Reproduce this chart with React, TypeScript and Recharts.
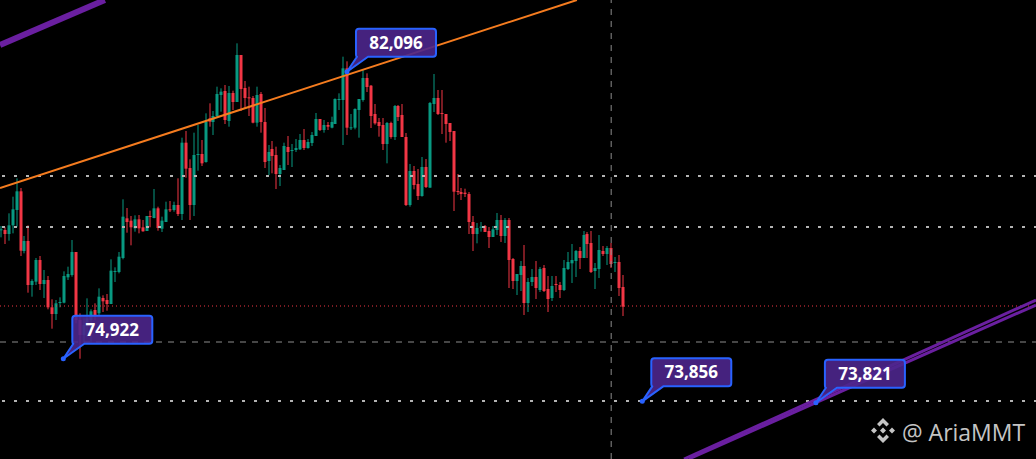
import { Bar, ComposedChart, ReferenceDot, ReferenceLine, XAxis, YAxis } from 'recharts';

const opens = [78132,78140,78040,78257,78640,79107,77615,77865,76765,76848,77390,76790,76890,76207,76040,76323,76323,76957,77015,77590,75890,75515,75765,75890,76140,76057,76440,76390,76290,77098,77090,77440,78432,78373,78182,78407,78207,78115,78490,78440,78682,78173,78340,78657,78640,78765,78540,80323,79690,78765,80015,80040,79840,80932,80840,80990,81515,81615,80865,81565,81340,82515,81690,81457,81440,80823,81540,80840,79865,80165,80015,79540,79640,80215,80123,80140,80157,80390,80190,80315,80490,80915,80640,80765,80698,80790,81398,81390,82182,80690,80698,81140,81390,81940,81748,81040,80840,80765,80290,80815,80465,81240,81015,80465,78765,79615,79290,78990,79715,79198,81290,81440,81065,81040,80815,80615,79115,79090,79073,79040,78340,78040,78198,78240,78115,77965,78140,78390,77990,78390,77415,76865,77015,77240,76315,76840,76965,76640,77190,76665,76440,76790,76765,76640,77165,77307,77365,77615,77440,78040,77815,77115,77165,77615,77540,77690,77323,77340,76715];
const highs = [78240,78207,78557,78973,79432,79190,77990,78257,76907,77440,77490,77140,76990,76407,76390,76457,77107,77223,77890,77590,76057,75932,76432,76157,76307,76682,76507,76540,77407,77207,77590,78907,78690,78490,78507,78515,78390,78490,78623,79165,78723,78473,78848,78865,78848,79432,80448,80615,79907,80573,80765,80390,81057,81307,81115,81723,81682,81765,81740,81623,82807,82515,81865,81723,81490,81723,81590,81190,80265,80365,80223,79765,80323,80490,80290,80415,80540,80665,80415,80590,81065,80915,80890,80840,80973,81432,81557,82473,82357,81040,81182,81415,82140,82057,81765,81290,80940,80940,80840,80848,81265,81265,81290,80565,79790,79740,79665,79965,79915,81340,82040,81640,81640,81040,80815,80615,79540,79190,79173,79090,78490,78315,78340,78265,78215,78240,78565,78515,78440,78440,77440,77040,77365,77765,76940,77165,77365,77215,77265,76990,76990,76990,76840,77390,77590,77790,77640,77715,78115,78090,78115,77315,78015,77740,77740,77815,77465,77515,77015];
const lows = [77957,77790,77873,78057,78223,77490,77557,76573,76473,76765,76640,76440,76157,75673,75890,76207,76307,76890,76973,75807,74922,75323,75473,75323,75890,76015,76090,76123,76290,76840,77057,77407,78073,77757,78098,78057,78098,78115,78207,78432,78123,78090,78340,78590,78598,78490,78390,79448,78390,78490,79623,79740,79823,80723,80515,80957,81098,80790,80723,81140,81340,81115,81182,80990,80807,80723,80573,79690,79515,79557,79165,79240,79640,79765,79715,80090,80140,80140,80173,80240,80490,80615,80573,80640,80682,80790,81140,80265,80515,80640,80657,80448,81348,81590,80690,80773,80473,80140,79807,80423,80390,80865,80465,78740,78723,79157,78890,78973,79190,79198,81090,81015,80540,80323,80365,78615,79015,78890,78965,78040,77615,77807,78098,78090,77690,77965,78015,77840,77815,76690,76665,76515,76615,76015,76090,76740,76415,76590,76590,76090,76365,76590,76440,76615,77140,76815,76965,77165,77440,77440,77065,76665,76940,77490,77265,77190,77090,76490,75990];
const closes = [78157,78040,78257,78657,79107,77623,77865,76765,76865,77390,76790,76890,76207,76040,76307,76340,76990,77040,77590,75890,75515,75765,75932,76107,76015,76473,76357,76290,77123,77115,77473,78473,78340,78207,78407,78182,78107,78490,78473,78682,78190,78373,78657,78640,78765,78540,80323,79673,78765,80015,80040,79807,80848,80848,80990,81540,81598,80890,81565,81340,82515,81665,81440,81440,80823,81515,80840,79840,80090,79990,79540,79690,80240,80090,80140,80190,80390,80190,80340,80515,80915,80640,80765,80723,80840,81415,81415,82182,80698,80707,81165,81415,81940,81715,80990,80807,80740,80290,80815,80465,81240,80965,80465,78765,79615,79265,78990,79715,79215,81315,81440,81040,81040,80790,80590,79098,79090,79040,79040,78340,78040,78190,78223,78090,77965,78157,78390,77990,78390,77390,76865,77040,77240,76315,76840,76965,76690,77165,76615,76415,76740,76765,76640,77190,77340,77390,77615,77440,78015,77790,77090,77190,77640,77540,77690,77290,77340,76690,76223];

const priceDomain = [72415, 83890];
const indexDomain = [-0.33, 262.8];

const dottedLevels = [79490, 78215, 73865];
const lastPriceLevel = 76240;
const crosshairPrice = 75340;
const crosshairIndex = 154.9;

const callouts = [
  { index: 87.8, price: 82096 },
  { index: 15.75, price: 74922 },
  { index: 162.8, price: 73856 },
  { index: 206.9, price: 73821 },
];

const orangeTrend = [{ x: -0.33, y: 79190 }, { x: 146.2, y: 83890 }];
const purpleTrend = [{ x: -0.33, y: 82765 }, { x: 26.3, y: 83890 }];
const channelUpper = [{ x: 173.4, y: 72415 }, { x: 262.8, y: 76390 }];
const channelLower = [{ x: 174.6, y: 72415 }, { x: 262.8, y: 76265 }];

const UP = '#089981';
const DOWN = '#f23645';

const chartData = opens.map((open, i) => ({
  i,
  open,
  high: highs[i],
  low: lows[i],
  close: closes[i],
  range: [lows[i], highs[i]],
}));

function Candle(props: any) {
  const { x, y, width, height, payload } = props;
  const { open, close, high, low } = payload;
  const k = height / (high - low);
  const top = y + (high - Math.max(open, close)) * k;
  const bodyHeight = Math.max(Math.abs(open - close) * k, 1);
  const color = close >= open ? UP : DOWN;
  const cx = Math.round(x + width / 2);
  return (
    <g>
      <rect x={cx - 0.5} y={y} width={1} height={height} fill={color} />
      <rect x={cx - 1.5} y={top} width={3} height={bodyHeight} fill={color} />
    </g>
  );
}

function Callout(props: any) {
  const { cx, cy, text } = props;
  const bx = cx + 9;
  const by = cy - 43;
  const path = `M${bx + 3} ${by} H${bx + 77} Q${bx + 80} ${by} ${bx + 80} ${by + 3} V${by + 25} Q${bx + 80} ${by + 28} ${bx + 77} ${by + 28} H${bx + 12} L${cx} ${cy} L${bx + 1} ${by + 28} Q${bx} ${by + 28} ${bx} ${by + 25} V${by + 3} Q${bx} ${by} ${bx + 3} ${by} Z`;
  return (
    <g>
      <path d={path} fill="rgba(76,38,140,0.9)" stroke="#2962ff" strokeWidth={2} strokeLinejoin="round" />
      <circle cx={cx} cy={cy} r={2.5} fill="#2962ff" />
      <text x={bx + 40} y={by + 20} textAnchor="middle" fill="#fff" fontSize={17} fontWeight={700} fontFamily="'Open Sans', sans-serif">
        {text}
      </text>
    </g>
  );
}

export default function App() {
  return (
    <div style={{ position: 'relative', width: 1036, height: 459, background: '#000', overflow: 'hidden' }}>
      <style>{'body{margin:0;background:#000}'}</style>
      <ComposedChart width={1036} height={459} data={chartData} margin={{ top: 0, right: 0, bottom: 0, left: 0 }}>
        <XAxis hide type="number" dataKey="i" domain={indexDomain} allowDataOverflow />
        <YAxis hide type="number" domain={priceDomain} allowDataOverflow />
        {dottedLevels.map(level => (
          <ReferenceLine key={level} y={level} stroke="#b4b4b4" strokeWidth={2} strokeDasharray="3 9" strokeDashoffset={-2} />
        ))}
        <ReferenceLine y={lastPriceLevel} stroke={DOWN} strokeWidth={1} strokeDasharray="1 3" />
        <ReferenceLine y={crosshairPrice} stroke="#8c8c8c" strokeWidth={1} strokeDasharray="6 6" />
        <ReferenceLine x={crosshairIndex} stroke="#8c8c8c" strokeWidth={1} strokeDasharray="6 6" />
        <Bar dataKey="range" barSize={3} shape={<Candle />} isAnimationActive={false} />
        <ReferenceLine segment={orangeTrend} stroke="#f57c1f" strokeWidth={2} />
        <ReferenceLine segment={purpleTrend} stroke="#6a1fa0" strokeWidth={6} />
        <ReferenceLine segment={channelUpper} stroke="#6a1fa0" strokeWidth={3} />
        <ReferenceLine segment={channelLower} stroke="#6a1fa0" strokeWidth={3} />
        {callouts.map(c => (
          <ReferenceDot
            key={c.price}
            x={c.index}
            y={c.price}
            shape={<Callout text={c.price.toLocaleString('en-US')} />}
          />
        ))}
      </ComposedChart>
      <div style={{ position: 'absolute', left: 868, top: 417, display: 'flex', alignItems: 'center', color: '#c4c4c4', fontFamily: "'Open Sans', sans-serif", fontSize: 23, height: 30 }}>
        <svg width={30} height={30} viewBox="0 0 30 30" style={{ marginRight: 4 }}>
          <path d="M15 1 L21 7 L18.5 9.5 L15 6 L11.5 9.5 L9 7 Z M6 10.5 L9 13.5 L6 16.5 L3 13.5 Z M24 10.5 L27 13.5 L24 16.5 L21 13.5 Z M15 10.5 L18 13.5 L15 16.5 L12 13.5 Z M9 20 L11.5 17.5 L15 21 L18.5 17.5 L21 20 L15 26 Z" fill="#c4c4c4" />
        </svg>
        <span>@ AriaMMT</span>
      </div>
    </div>
  );
}
